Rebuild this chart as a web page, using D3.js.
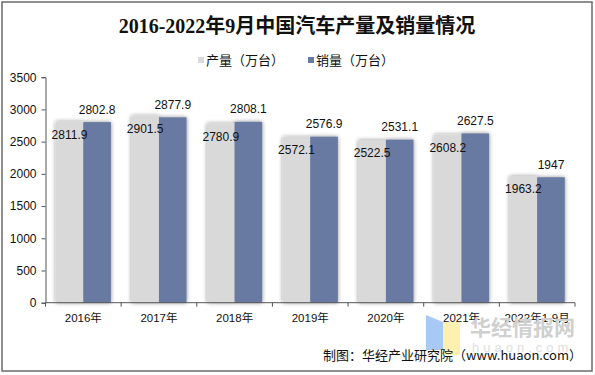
<!DOCTYPE html>
<html>
<head>
<meta charset="utf-8">
<script src="https://cdn.jsdelivr.net/npm/d3@7"></script>
<style>
  body { margin: 0; background: #fff; }
  svg { display: block; }
</style>
</head>
<body>
<script>
const categories = ["2016年", "2017年", "2018年", "2019年", "2020年", "2021年", "2022年1-9月"];
const series = ["产量（万台）", "销量（万台）"];
const production = [2811.9, 2901.5, 2780.9, 2572.1, 2522.5, 2608.2, 1963.2];
const sales = [2802.8, 2877.9, 2808.1, 2576.9, 2531.1, 2627.5, 1947];
const yTicks = [0, 500, 1000, 1500, 2000, 2500, 3000, 3500];

const W = 595, H = 375;
const colors = ["#d9d9d9", "#677aa1"];
const numFont = "'Liberation Sans', Arial, 'Noto Sans CJK SC', sans-serif";
const cjkFont = "'Noto Sans CJK SC', 'Liberation Sans', sans-serif";

const svg = d3.select("body").append("svg")
  .attr("width", W)
  .attr("height", H);

const defs = svg.append("defs");
const shadow = defs.append("filter").attr("id", "shadow")
  .attr("x", "-30%").attr("y", "-10%").attr("width", "160%").attr("height", "120%");
shadow.append("feDropShadow")
  .attr("dx", 0).attr("dy", 0).attr("stdDeviation", 2.2)
  .attr("flood-color", "#000").attr("flood-opacity", 0.45);

// frame
svg.append("rect")
  .attr("x", 2).attr("y", 2).attr("width", 590).attr("height", 369)
  .attr("fill", "#fff").attr("stroke", "#6b6b6b").attr("stroke-width", 1.5);

// title
svg.append("text")
  .attr("x", 297).attr("y", 33)
  .attr("text-anchor", "middle")
  .attr("font-family", "'Liberation Serif', 'Noto Sans CJK SC', serif")
  .attr("font-size", 20)
  .attr("font-weight", "bold")
  .attr("fill", "#111")
  .text("2016-2022年9月中国汽车产量及销量情况");

// legend
const legendX = [198, 308];
const legend = svg.append("g").selectAll("g").data(series).join("g")
  .attr("transform", (d, i) => `translate(${legendX[i]},60)`);
legend.append("rect")
  .attr("x", 0).attr("y", -3).attr("width", 6).attr("height", 6)
  .attr("fill", (d, i) => colors[i]);
legend.append("text")
  .attr("x", 8).attr("y", 4.5)
  .attr("font-family", cjkFont)
  .attr("font-size", 13)
  .attr("fill", "#111")
  .text(d => d);

// scales
const x0 = d3.scaleBand()
  .domain(categories)
  .range([45.5, 575])
  .paddingInner(0.27)
  .paddingOuter(0.135);
const x1 = d3.scaleBand()
  .domain(series)
  .range([0, x0.bandwidth()]);
const y = d3.scaleLinear()
  .domain([0, 3500])
  .range([302.7, 77.2]);

// y axis
const yAxis = svg.append("g")
  .attr("transform", "translate(45.5,0)")
  .call(d3.axisLeft(y).tickValues(yTicks).tickFormat(d3.format("d")).tickSize(4).tickPadding(5));
yAxis.selectAll("path, line").attr("stroke", "#555");
yAxis.selectAll("text")
  .attr("font-family", numFont)
  .attr("font-size", 12)
  .attr("fill", "#111");

// bars
const rows = categories.map((c, i) => ({ cat: c, vals: [production[i], sales[i]] }));
const groups = svg.append("g").selectAll("g").data(rows).join("g")
  .attr("transform", d => `translate(${x0(d.cat)},0)`);
groups.append("g")
  .attr("filter", "url(#shadow)")
  .selectAll("rect")
  .data(d => d.vals.map((v, i) => ({ key: series[i], v, i })))
  .join("rect")
  .attr("x", d => x1(d.key))
  .attr("y", d => y(d.v))
  .attr("width", x1.bandwidth())
  .attr("height", d => y(0) - y(d.v))
  .attr("fill", d => colors[d.i]);

// value labels
groups.selectAll("text.val")
  .data(d => d.vals.map((v, i) => ({ key: series[i], v, i })))
  .join("text")
  .attr("class", "val")
  .attr("x", d => x1(d.key) + x1.bandwidth() / 2)
  .attr("y", d => d.i === 0 ? y(d.v) + 17 : y(d.v) - 8.5)
  .attr("text-anchor", "middle")
  .attr("font-family", numFont)
  .attr("font-size", 12)
  .attr("fill", "#111")
  .text(d => d.v);

// x axis
const step = x0.step();
const xAxis = svg.append("g");
xAxis.append("line")
  .attr("x1", 45.5).attr("x2", 575)
  .attr("y1", y(0)).attr("y2", y(0))
  .attr("stroke", "#555");
const bounds = categories.map(c => x0(c) - (step - x0.bandwidth()) / 2).concat([575]);
xAxis.selectAll("line.tick").data(bounds).join("line")
  .attr("class", "tick")
  .attr("x1", d => d).attr("x2", d => d)
  .attr("y1", y(0)).attr("y2", y(0) + 4)
  .attr("stroke", "#555");

// watermark (behind labels)
const wm = svg.append("g");
wm.append("path")
  .attr("d", "M426,315 L443,322 L443,350 L426,350 Z")
  .attr("fill", "#a8c8f5");
wm.append("rect")
  .attr("x", 443).attr("y", 322).attr("width", 17).attr("height", 33)
  .attr("fill", "#fdf0b0");
wm.append("text")
  .attr("x", 470).attr("y", 335)
  .attr("font-family", cjkFont)
  .attr("font-size", 21)
  .attr("font-weight", "bold")
  .attr("fill", "#d0d0d0")
  .text("华经情报网");
wm.append("text")
  .attr("x", 472).attr("y", 352)
  .attr("font-family", numFont)
  .attr("font-size", 13)
  .attr("letter-spacing", 4)
  .attr("fill", "#e0e0e0")
  .text("huaon.com");

xAxis.selectAll("text").data(categories).join("text")
  .attr("x", d => x0(d) + x0.bandwidth() / 2)
  .attr("y", 322)
  .attr("text-anchor", "middle")
  .attr("font-family", numFont)
  .attr("font-size", 11.5)
  .attr("fill", "#111")
  .text(d => d);

// source
svg.append("text")
  .attr("x", 582).attr("y", 360)
  .attr("text-anchor", "end")
  .attr("font-family", cjkFont)
  .attr("font-size", 13)
  .attr("fill", "#111")
  .text("制图：华经产业研究院（www.huaon.com）");
</script>
</body>
</html>
